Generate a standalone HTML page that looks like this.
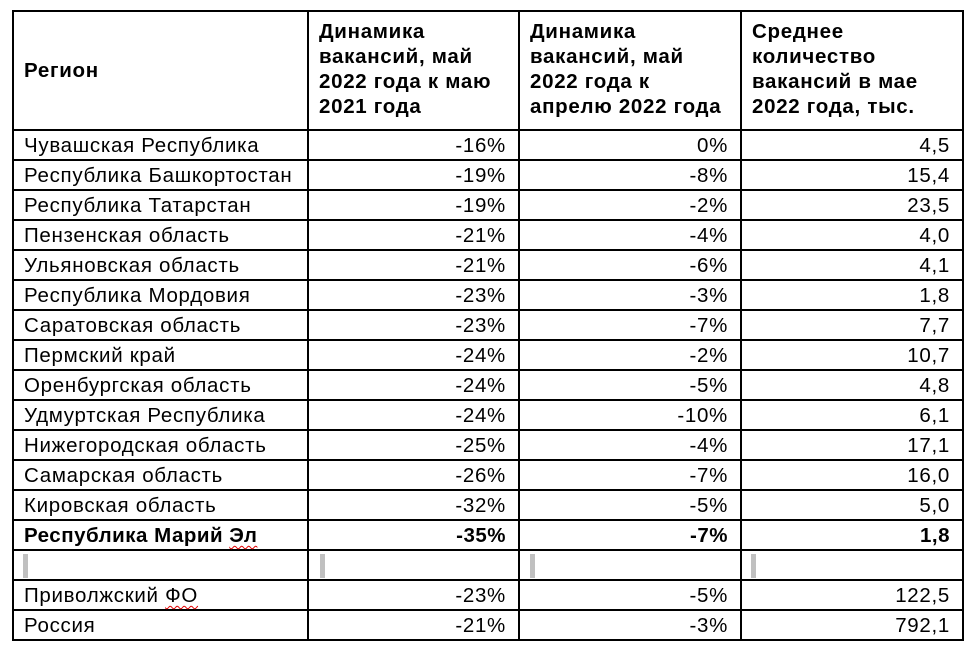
<!DOCTYPE html><html><head><style>
body{margin:0;background:#fff;width:973px;height:649px;position:relative;font-family:"Liberation Sans",Arial,sans-serif;font-size:20.5px;letter-spacing:0.7px;color:#000}
.h{position:absolute;background:#000}
.t{position:absolute;white-space:nowrap;line-height:30px}
.r{text-align:right}
.b{font-weight:bold;letter-spacing:0.5px}
.g{position:absolute;background:#c0c0c0;width:5px;height:24px;top:554px}
.hd{position:absolute;font-weight:bold;line-height:25px;top:19px;letter-spacing:0.7px;white-space:nowrap}
.w{text-decoration:underline wavy #e00000;text-decoration-thickness:1px;text-underline-offset:3px}
</style></head><body>
<div class="h" style="left:12px;top:10px;width:952px;height:2px"></div>
<div class="h" style="left:12px;top:639px;width:952px;height:2px"></div>
<div class="h" style="left:12px;top:10px;width:2px;height:631px"></div>
<div class="h" style="left:307px;top:10px;width:2px;height:631px"></div>
<div class="h" style="left:518px;top:10px;width:2px;height:631px"></div>
<div class="h" style="left:740px;top:10px;width:2px;height:631px"></div>
<div class="h" style="left:962px;top:10px;width:2px;height:631px"></div>
<div id="lines"></div>
<div class="hd" style="left:24px;top:58px">Регион</div>
<div class="hd" style="left:319px">Динамика<br>вакансий, май<br>2022 года к маю<br>2021 года</div>
<div class="hd" style="left:530px">Динамика<br>вакансий, май<br>2022 года к<br>апрелю 2022 года</div>
<div class="hd" style="left:752px">Среднее<br>количество<br>вакансий в мае<br>2022 года, тыс.</div>
<div class="g" style="left:23px"></div><div class="g" style="left:320px"></div><div class="g" style="left:530px"></div><div class="g" style="left:751px"></div>
<div id="rows"></div>
<script>
var d=[["Чувашская Республика","-16%","0%","4,5"],["Республика Башкортостан","-19%","-8%","15,4"],["Республика Татарстан","-19%","-2%","23,5"],["Пензенская область","-21%","-4%","4,0"],["Ульяновская область","-21%","-6%","4,1"],["Республика Мордовия","-23%","-3%","1,8"],["Саратовская область","-23%","-7%","7,7"],["Пермский край","-24%","-2%","10,7"],["Оренбургская область","-24%","-5%","4,8"],["Удмуртская Республика","-24%","-10%","6,1"],["Нижегородская область","-25%","-4%","17,1"],["Самарская область","-26%","-7%","16,0"],["Кировская область","-32%","-5%","5,0"],["Республика Марий <span class=\"w\">Эл</span>","-35%","-7%","1,8"],null,["Приволжский <span class=\"w\">ФО</span>","-23%","-5%","122,5"],["Россия","-21%","-3%","792,1"]];
var h="",l="";
for(var i=0;i<d.length;i++){var y=130+i*30;l+='<div class="h" style="left:12px;top:'+(y-1)+'px;width:952px;height:2px"></div>';
if(!d[i])continue;var b=i==13?" b":"";
h+='<div class="t'+b+'" style="left:24px;top:'+(y+1)+'px">'+d[i][0]+'</div>';
h+='<div class="t r'+b+'" style="right:467px;top:'+(y+1)+'px">'+d[i][1]+'</div>';
h+='<div class="t r'+b+'" style="right:245px;top:'+(y+1)+'px">'+d[i][2]+'</div>';
h+='<div class="t r'+b+'" style="right:23px;top:'+(y+1)+'px">'+d[i][3]+'</div>';}
document.getElementById("rows").innerHTML=h;document.getElementById("lines").innerHTML=l;
</script>
</body></html>
